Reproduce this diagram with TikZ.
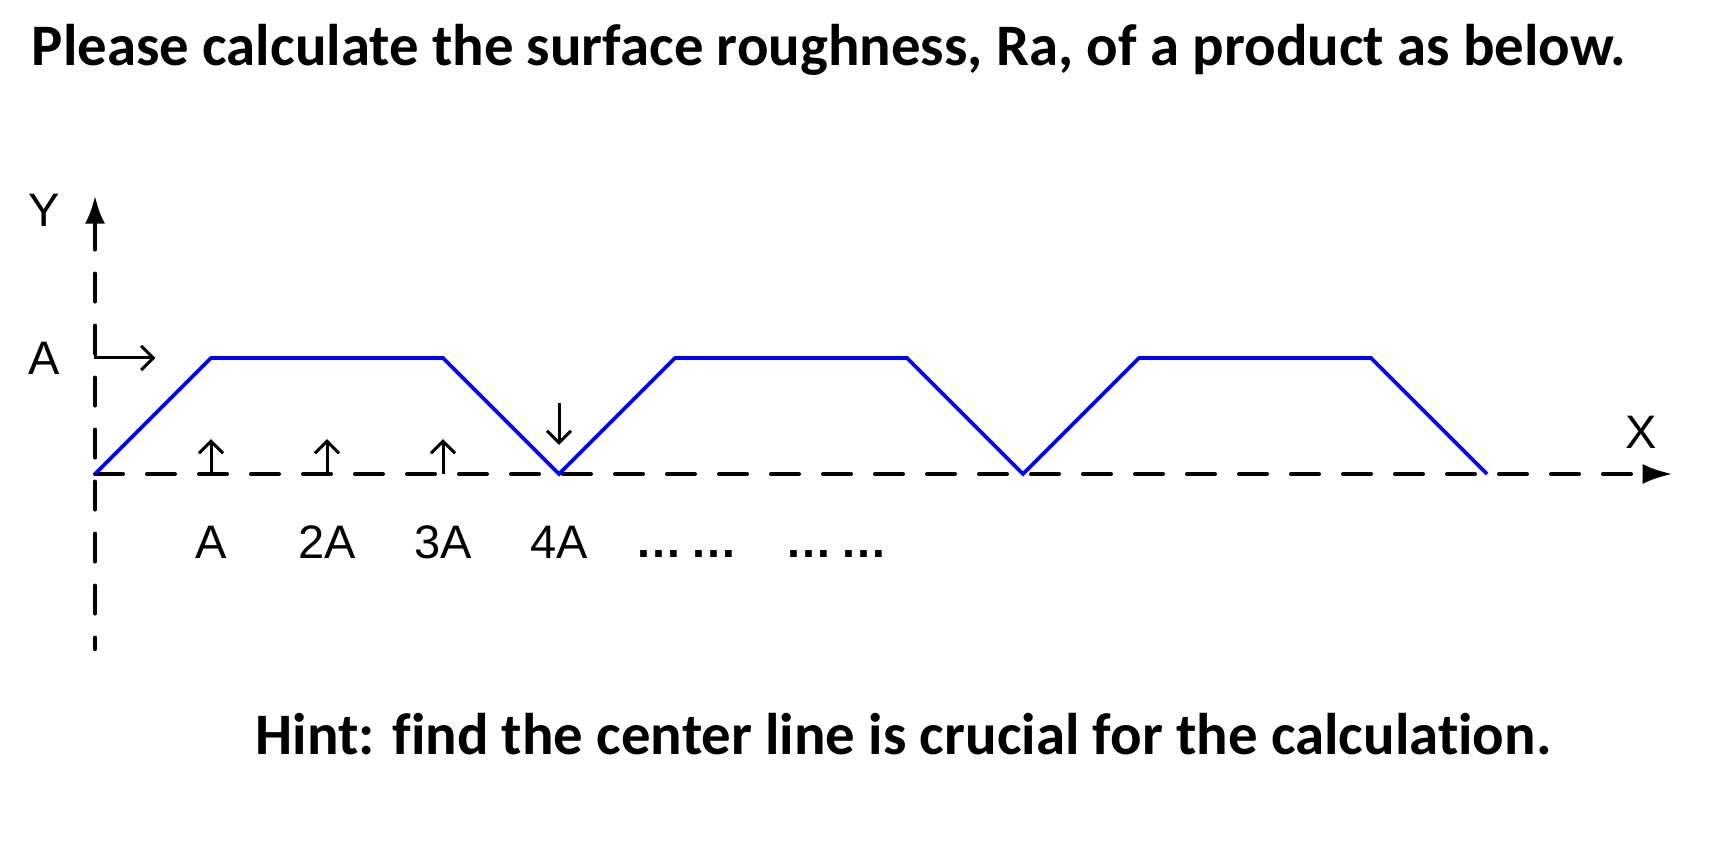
\documentclass[tikz,border=0pt]{standalone}
\usepackage{fontspec}
\setmainfont[Ligatures=NoCommon]{Carlito}
\newfontfamily\axisfont{Liberation Sans}
\usetikzlibrary{arrows.meta, positioning}

\begin{document}
\begin{tikzpicture}[x=58pt, y=58pt,
          axis/.style = {line width=2pt, dash pattern=on 14pt off 12pt, line cap=round},
          prof/.style = {blue, line width=1.9pt},
          tickarr/.style = {line width=1.5pt, -{Straight Barb[length=6pt, width=12pt]}},
          lbl/.style = {font=\axisfont\fontsize{23.5}{26}\selectfont, inner sep=0pt},
          msg/.style = {font=\fontsize{29.4}{36}\selectfont\bfseries, inner sep=0pt} ]

   \useasboundingbox (-0.819,-3.259) rectangle (14.043,4.086);

   % axes
   \coordinate (O)    at (0,0);
   \coordinate (ytop) at (0,2.4);
   \coordinate (ybot) at (0,-1.51);
   \coordinate (xtip) at (13.6,0);
   \draw[axis, {Latex[length=14pt, width=10pt]}-] (ytop) -- (ybot);
   \draw[axis, -{Latex[length=15pt, width=10pt]}] (O) -- (xtip);
   \node (Y) [lbl] at (-0.44,2.27) {Y};
   \node (X) [lbl] at (13.33,0.36) {X};

   % profile
   \draw[prof] (0,0) -- (1,1) -- (3,1) -- (4,0) -- (5,1) -- (7,1)
               -- (8,0) -- (9,1) -- (11,1) -- (12,0);

   % height A
   \node (hA) [lbl] at (-0.44,1) {A};
   \coordinate (hA1) at (0,1.26);
   \coordinate (hA2) at (0.52,1);
   \draw[tickarr] (hA1) |- (hA2);

   % steps along X
   \coordinate (t1) at (1,0);
   \coordinate (t2) at (2,0);
   \coordinate (t3) at (3,0);
   \coordinate (t4) at (4,0);
   \coordinate (d4) at (4,0.61);
   \draw[tickarr] (t1) -- ++(0,0.3);
   \draw[tickarr] (t2) -- ++(0,0.3);
   \draw[tickarr] (t3) -- ++(0,0.3);
   \draw[tickarr] (d4) -- ++(0,-0.36);

   \node (l1) [lbl] at (1,-0.585) {A};
   \node (l2) [lbl] at (2,-0.585) {2A};
   \node (l3) [lbl] at (3,-0.585) {3A};
   \node (l4) [lbl] at (4,-0.585) {4A};
   \node (l5) [lbl, anchor=base] at (5.10,-0.72) {\bfseries …\,…};
   \node (l6) [lbl, anchor=base] at (6.39,-0.72) {\bfseries …\,…};

   % texts
   \node (title) [msg, anchor=base west] at (-0.547,3.52)
         {Please calculate the surface roughness, Ra, of a product as below.};
   \node (hint)  [msg, anchor=base] at (6.97,-2.42)
         {Hint: find the center line is crucial for the calculation.};
\end{tikzpicture}
\end{document}
